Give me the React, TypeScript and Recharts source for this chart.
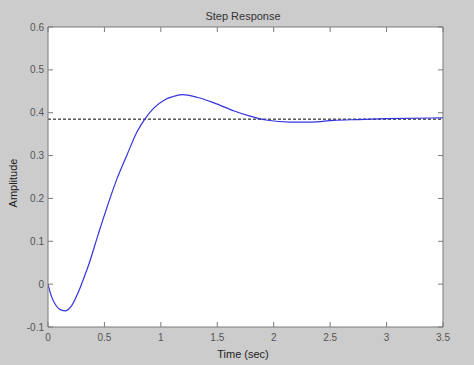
import React from 'react';
import { LineChart, Line, XAxis, YAxis, ReferenceLine, ReferenceArea } from 'recharts';

const timeSec = [0, 0.03, 0.06, 0.1, 0.15, 0.21, 0.27, 0.3, 0.355, 0.447, 0.521, 0.61, 0.699, 0.788, 0.855, 0.935, 1.04, 1.1, 1.19, 1.32, 1.47, 1.65, 1.79, 1.93, 2.15, 2.33, 2.53, 2.74, 3.0, 3.5];
const amplitude = [0, -0.028, -0.045, -0.058, -0.0625, -0.05, -0.018, 0.002, 0.041, 0.118, 0.178, 0.245, 0.301, 0.355, 0.384, 0.41, 0.431, 0.437, 0.442, 0.436, 0.423, 0.404, 0.392, 0.383, 0.378, 0.378, 0.382, 0.384, 0.386, 0.388];
const xTicks = [0, 0.5, 1, 1.5, 2, 2.5, 3, 3.5];
const yTicks = [-0.1, 0, 0.1, 0.2, 0.3, 0.4, 0.5, 0.6];
const steadyState = 0.385;
const titleText = 'Step Response';
const xLabelText = 'Time (sec)';
const yLabelText = 'Amplitude';

const data = timeSec.map((t, i) => ({ t, y: amplitude[i] }));

const FONT = '"Liberation Sans", Arial, sans-serif';
const AXIS = '#7a7a7a';

export default function App() {
  return (
    <div style={{ position: 'fixed', left: 0, top: 0, width: 474, height: 365, background: '#cccccc', fontFamily: FONT }}>
      <LineChart width={474} height={365} data={data} margin={{ top: 27, right: 31, bottom: 8, left: 8 }}>
        <ReferenceArea x1={0} x2={3.5} y1={-0.1} y2={0.6} fill="#ffffff" fillOpacity={1} stroke="none" ifOverflow="hidden" />
        <XAxis dataKey="t" type="number" domain={[0, 3.5]} ticks={xTicks} allowDataOverflow
          height={30} tickSize={-5} tickMargin={12} interval={0}
          stroke={AXIS} tick={{ fill: '#555', fontSize: 10, fontFamily: FONT }} />
        <XAxis xAxisId="top" orientation="top" dataKey="t" type="number" domain={[0, 3.5]} ticks={xTicks} allowDataOverflow
          height={1} tickSize={5} mirror interval={0} stroke={AXIS} tickFormatter={() => ''} />
        <YAxis type="number" domain={[-0.1, 0.6]} ticks={yTicks} allowDataOverflow
          width={40} tickSize={-5} tickMargin={9} interval={0}
          stroke={AXIS} tick={{ fill: '#555', fontSize: 10, fontFamily: FONT }} />
        <YAxis yAxisId="right" orientation="right" type="number" domain={[-0.1, 0.6]} ticks={yTicks} allowDataOverflow
          width={1} tickSize={5} mirror interval={0} stroke={AXIS} tickFormatter={() => ''} />
        <ReferenceLine y={steadyState} stroke="#000000" strokeDasharray="3 2" strokeWidth={1} />
        <Line dataKey="y" type="monotone" stroke="#3333dd" strokeWidth={1.2} dot={false} isAnimationActive={false} />
      </LineChart>
      <svg width={474} height={365} style={{ position: 'absolute', left: 0, top: 0, pointerEvents: 'none' }}>
        <text x={243} y={20} textAnchor="middle" fontSize={11} fontFamily={FONT} fill="#333">{titleText}</text>
        <text x={243} y={358} textAnchor="middle" fontSize={11} fontFamily={FONT} fill="#222">{xLabelText}</text>
        <text x={17} y={183} textAnchor="middle" fontSize={11} fontFamily={FONT} fill="#222" transform="rotate(-90 17 183)">{yLabelText}</text>
      </svg>
    </div>
  );
}
